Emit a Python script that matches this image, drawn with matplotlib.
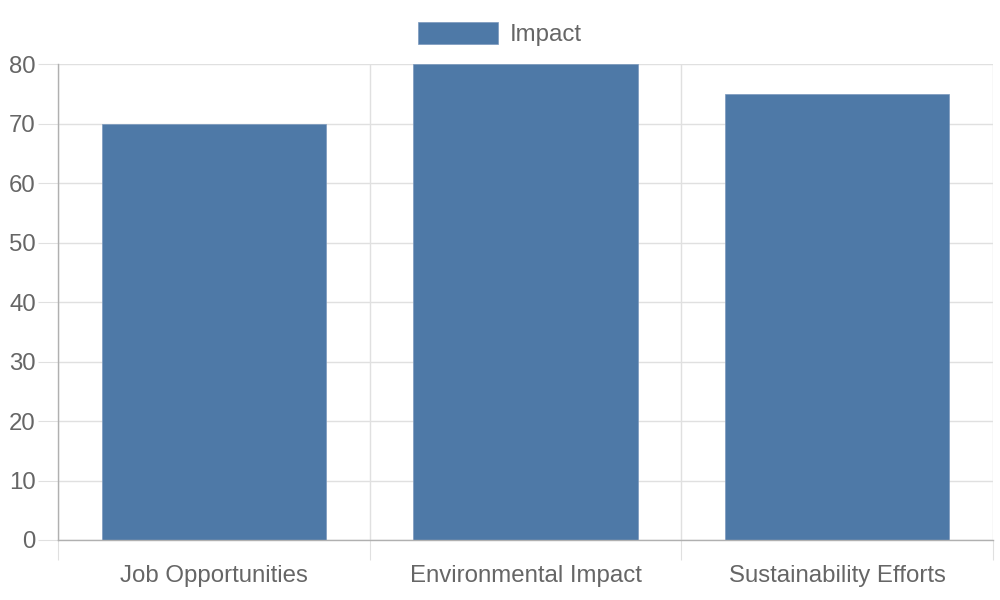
import numpy as np
import matplotlib
matplotlib.use("Agg")
import matplotlib.pyplot as plt

categories = ["Job Opportunities", "Environmental Impact", "Sustainability Efforts"]
impact = [70, 80, 75]
y_ticks = [0, 10, 20, 30, 40, 50, 60, 70, 80]

BAR_C = "#4e79a7"
GRID_C = "#e0e0e0"
AXIS_C = "#b0b0b0"
TEXT_C = "#666666"
FS = 17.3  # 24 px at dpi 100

plt.rcParams["font.family"] = ["Liberation Sans", "DejaVu Sans"]

fig = plt.figure(figsize=(10, 6), dpi=100)
ax = fig.add_axes([0.058, 0.1, 0.935, 0.7933])

x = np.arange(len(categories))
ax.bar(x, impact, width=0.72, color=BAR_C, edgecolor="#7a98bd", linewidth=0.5,
       label="Impact", zorder=3)

ax.set_xlim(-0.5, len(categories) - 0.5)
ax.set_ylim(0, 80)
ax.set_yticks(y_ticks)
ax.set_xticks(x)
ax.set_xticklabels(categories)
ax.set_xticks(np.arange(len(categories) + 1) - 0.5, minor=True)

ax.set_axisbelow(True)
ax.grid(True, axis="y", which="major", color=GRID_C, lw=1.0)
ax.grid(True, axis="x", which="minor", color=GRID_C, lw=1.0)

ax.tick_params(axis="y", which="major", length=14.4, width=0.8, color=GRID_C,
               labelsize=FS, labelcolor=TEXT_C, pad=1.5)
ax.tick_params(axis="x", which="major", length=0, labelsize=FS,
               labelcolor=TEXT_C, pad=18)
ax.tick_params(axis="x", which="minor", length=14.4, width=0.8, color=GRID_C)

for s in ["top", "right"]:
    ax.spines[s].set_visible(False)
for s in ["left", "bottom"]:
    ax.spines[s].set_color(AXIS_C)
    ax.spines[s].set_linewidth(1.0)
ax.spines["bottom"].set_zorder(4)

ax.yaxis.get_major_ticks()[0].tick1line.set_color(AXIS_C)
ax.xaxis.get_minor_ticks()[0].tick1line.set_color(AXIS_C)

fig.legend(loc="center", bbox_to_anchor=(0.5, 0.943), frameon=False,
           fontsize=FS, labelcolor=TEXT_C, handlelength=3.33, handleheight=1.0,
           handletextpad=0.5, borderpad=0)

fig.savefig("out.png", dpi=100, facecolor="white")
